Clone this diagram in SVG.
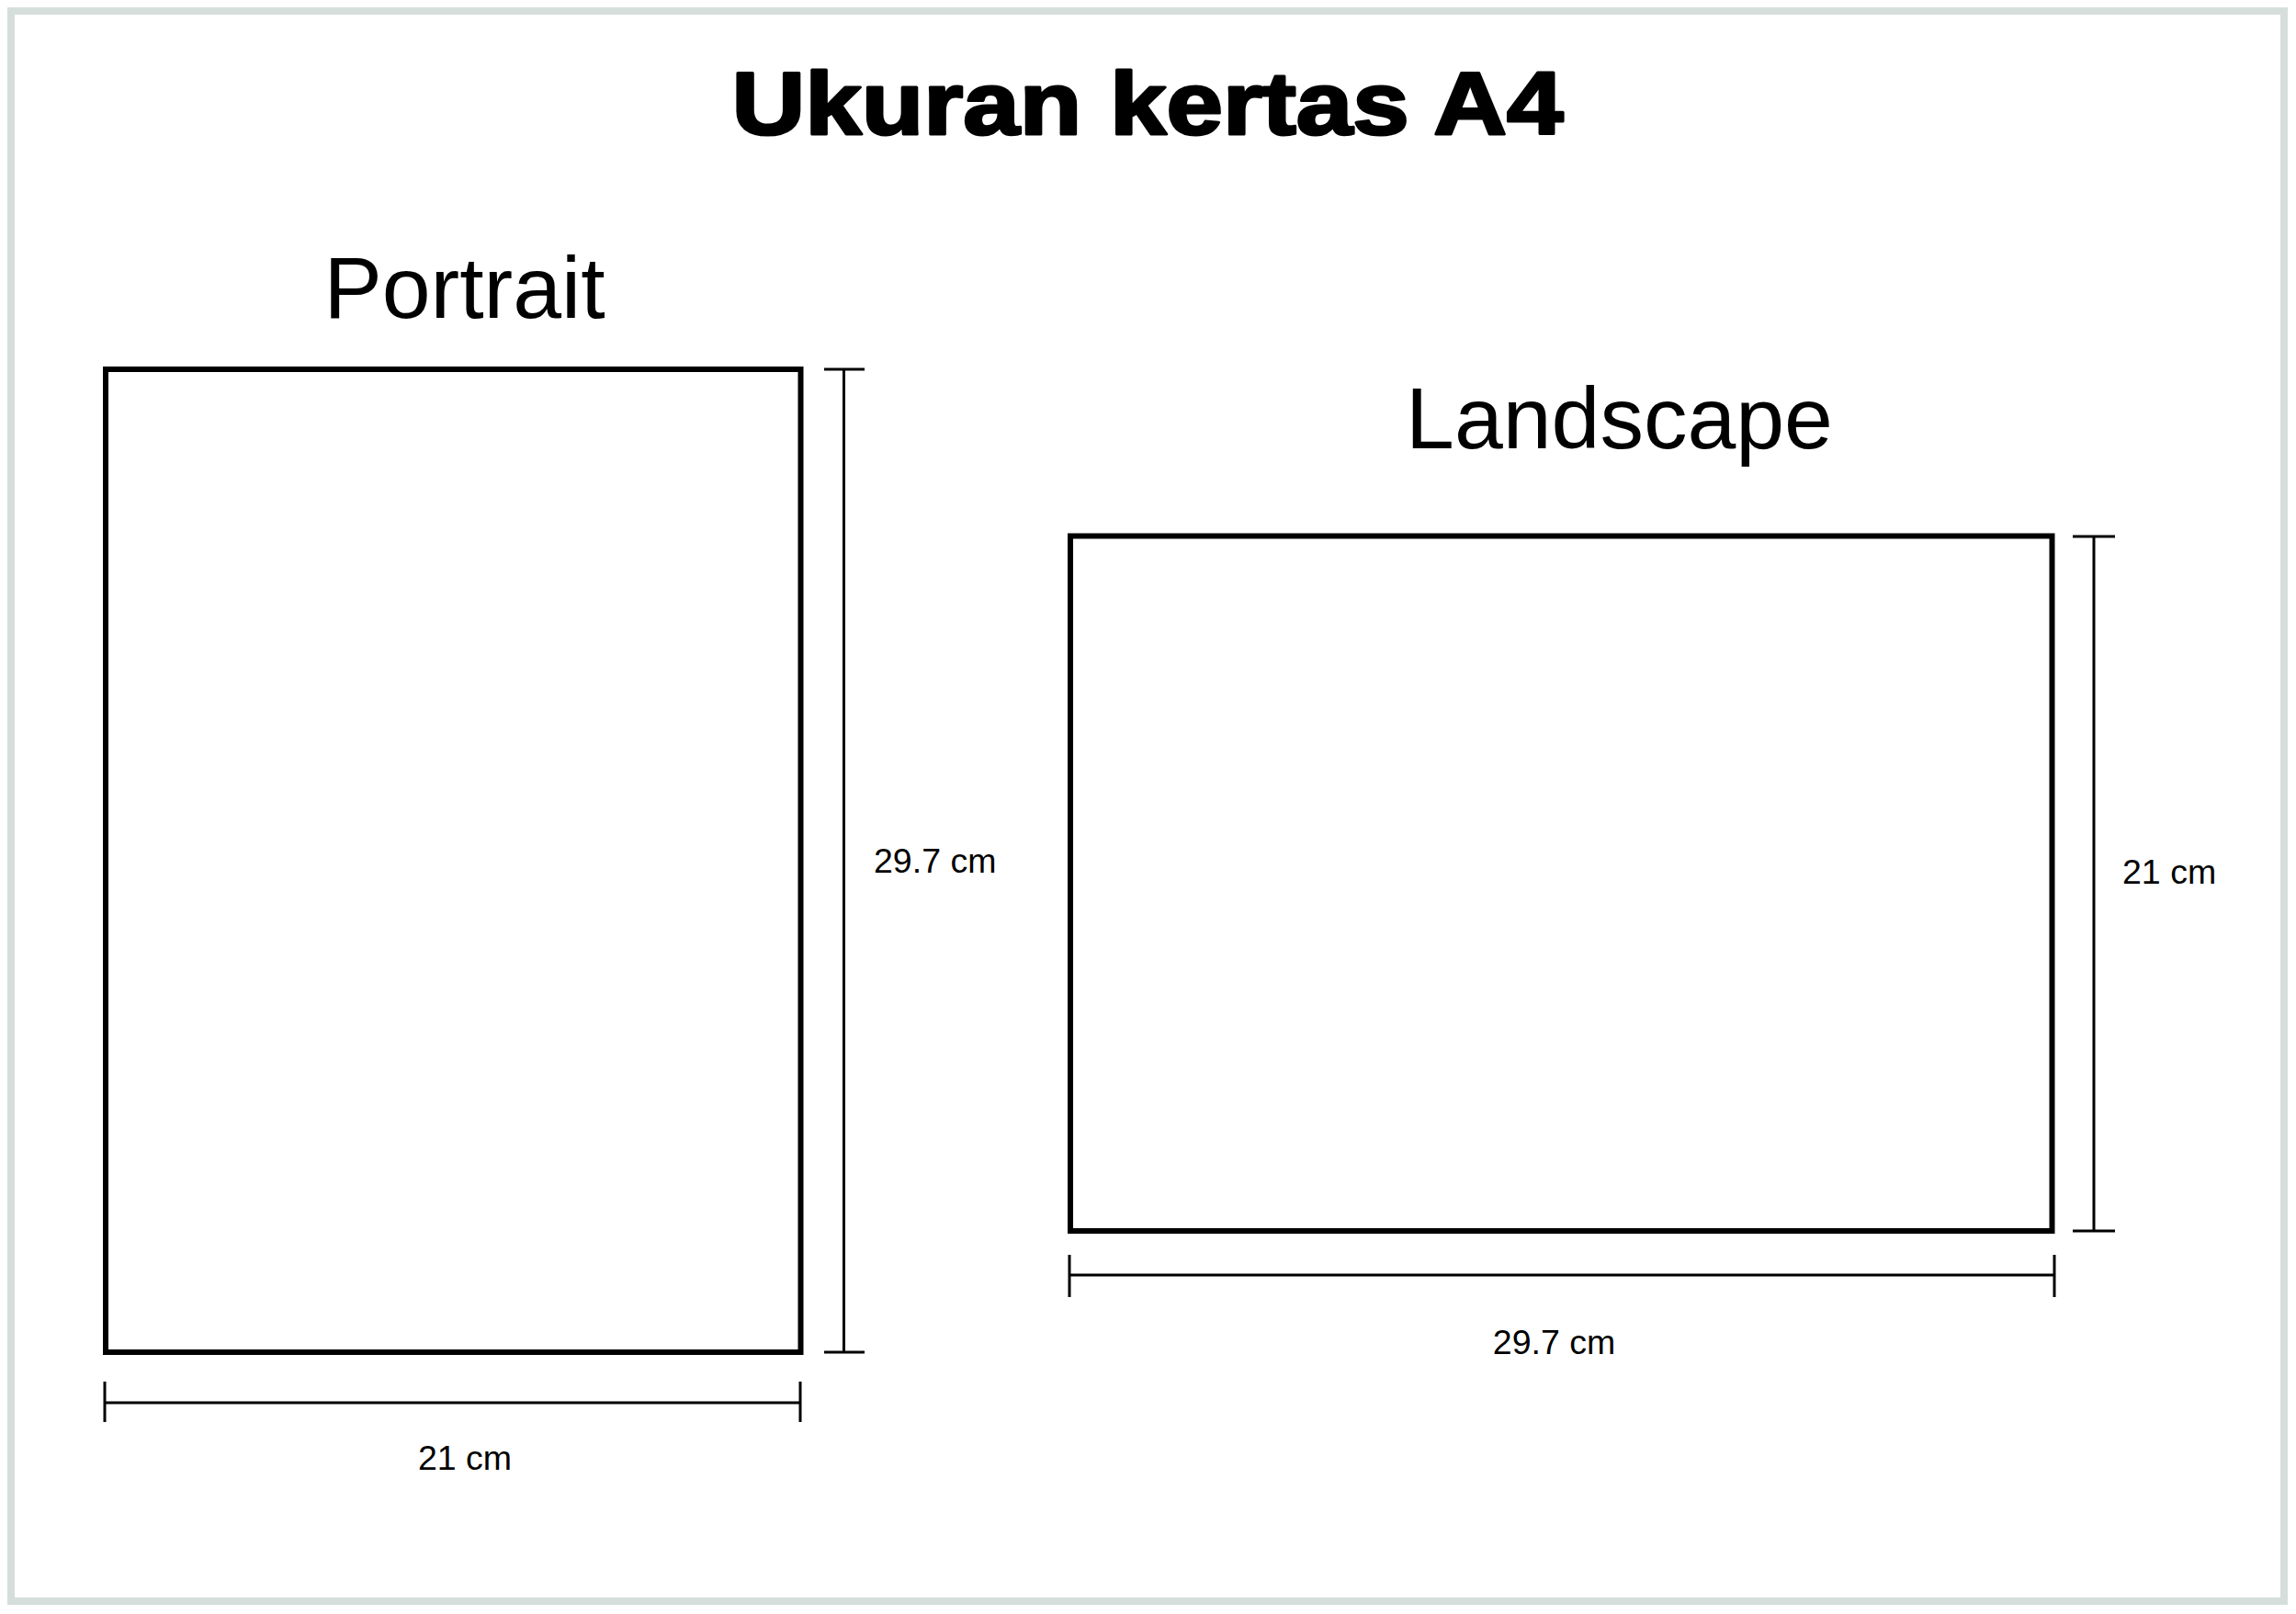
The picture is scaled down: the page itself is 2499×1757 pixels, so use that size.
<svg xmlns="http://www.w3.org/2000/svg" width="2499" height="1757" viewBox="0 0 2499 1757">
<style>
.frame{fill:none;stroke:#d5dedb;stroke-width:8}
.sheet{fill:#ffffff;stroke:#000000;stroke-width:6}
.dim{fill:none;stroke:#000000;stroke-width:3}
.title{font-family:"Liberation Sans",Arial,sans-serif;font-weight:bold;font-size:96px;fill:#000;stroke:#000;stroke-width:3;stroke-linejoin:round}
.head{font-family:"Liberation Sans",Arial,sans-serif;font-size:95px;fill:#000}
.lbl{font-family:"Liberation Sans",Arial,sans-serif;font-size:37.5px;fill:#000}
</style>
<rect width="2499" height="1757" fill="#ffffff"/>
<rect class="frame" x="12" y="12" width="2474" height="1731"/>
<text id="title" class="title" x="1249" y="146" text-anchor="middle" textLength="905" lengthAdjust="spacingAndGlyphs">Ukuran kertas A4</text>
<g id="portrait">
<text class="head" x="505.5" y="346" text-anchor="middle">Portrait</text>
<rect class="sheet" x="115" y="402" width="756.5" height="1070"/>
</g>
<g id="landscape">
<text class="head" x="1762.5" y="488" text-anchor="middle" font-size="94">Landscape</text>
<rect class="sheet" x="1165" y="583.5" width="1068.5" height="756.5"/>
</g>
<g id="connectors">
<g id="portrait-height">
<path class="dim" d="M918.5 402V1472M897 402H941M897 1472H941"/>
<text class="lbl" x="951" y="950">29.7 cm</text>
</g>
<g id="portrait-width">
<path class="dim" d="M114 1527H871M114 1504V1548M871 1504V1548"/>
<text class="lbl" x="506" y="1600" text-anchor="middle">21 cm</text>
</g>
<g id="landscape-height">
<path class="dim" d="M2279 584V1340M2256 584H2302M2256 1340H2302"/>
<text class="lbl" x="2310" y="962">21 cm</text>
</g>
<g id="landscape-width">
<path class="dim" d="M1164 1388H2236M1164 1366V1412M2236 1366V1412"/>
<text class="lbl" x="1691.5" y="1474" text-anchor="middle">29.7 cm</text>
</g>
</g>
</svg>
